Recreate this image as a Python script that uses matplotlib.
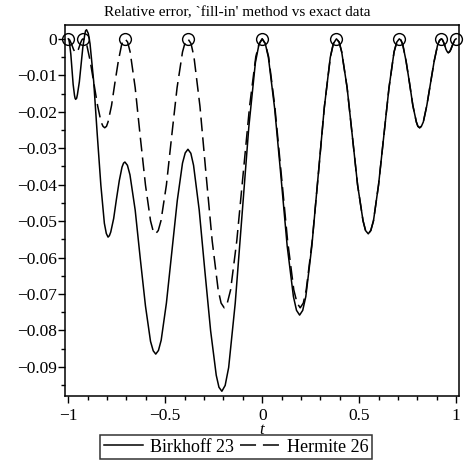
import matplotlib
matplotlib.use("Agg")
import matplotlib.pyplot as plt
from matplotlib.ticker import MultipleLocator, FuncFormatter
from matplotlib.lines import Line2D

plt.rcParams['font.family'] = ['Liberation Serif', 'DejaVu Serif']

# Birkhoff 23 (solid)
t_birk = [-1.0,
          -0.997, -0.994, -0.987, -0.981, -0.975, -0.968, -0.965, -0.962,
          -0.957, -0.953, -0.943, -0.934, -0.925, -0.915, -0.911, -0.906,
          -0.897, -0.888, -0.869, -0.851, -0.832, -0.814, -0.804, -0.795,
          -0.788, -0.781, -0.766, -0.752, -0.737, -0.723, -0.715, -0.708,
          -0.695, -0.682, -0.655, -0.629, -0.602, -0.576, -0.562, -0.549,
          -0.535, -0.521, -0.494, -0.466, -0.438, -0.411, -0.397, -0.383,
          -0.368, -0.354, -0.325, -0.296, -0.266, -0.237, -0.223, -0.208,
          -0.191, -0.173, -0.139, -0.104, -0.069, -0.035, -0.017, 0.0,
          0.016, 0.032, 0.064, 0.097, 0.129, 0.161, 0.177, 0.193,
          0.209, 0.225, 0.256, 0.288, 0.320, 0.351, 0.367, 0.383,
          0.397, 0.410, 0.438, 0.465, 0.492, 0.520, 0.533, 0.547,
          0.560, 0.574, 0.600, 0.627, 0.654, 0.680, 0.694, 0.707,
          0.716, 0.725, 0.742, 0.760, 0.777, 0.795, 0.803, 0.812,
          0.821, 0.831, 0.849, 0.868, 0.887, 0.905, 0.915, 0.924,
          0.927, 0.930, 0.936, 0.942, 0.948, 0.954, 0.957, 0.960,
          0.963, 0.967, 0.973, 0.980, 0.987, 0.993, 0.997, 1.0]
err_birk = [0.0,
            -0.0003, -0.0011, -0.0042, -0.0083, -0.0125, -0.0155, -0.0163, -0.0166,
            -0.0163, -0.0153, -0.0118, -0.0071, -0.0023, 0.0012, 0.0022, 0.0025,
            0.0015, -0.0013, -0.0117, -0.0260, -0.0402, -0.0506, -0.0534, -0.0544,
            -0.0540, -0.0530, -0.0493, -0.0441, -0.0389, -0.0352, -0.0341, -0.0338,
            -0.0347, -0.0373, -0.0470, -0.0602, -0.0733, -0.0830, -0.0856, -0.0865,
            -0.0855, -0.0827, -0.0725, -0.0584, -0.0444, -0.0341, -0.0313, -0.0303,
            -0.0314, -0.0347, -0.0469, -0.0635, -0.0801, -0.0923, -0.0956, -0.0967,
            -0.0951, -0.0902, -0.0725, -0.0484, -0.0242, -0.0065, -0.0016, 0.0,
            -0.0013, -0.0051, -0.0190, -0.0379, -0.0569, -0.0707, -0.0745, -0.0758,
            -0.0745, -0.0707, -0.0569, -0.0379, -0.0190, -0.0051, -0.0013, 0.0,
            -0.0009, -0.0036, -0.0134, -0.0268, -0.0401, -0.0499, -0.0526, -0.0535,
            -0.0526, -0.0499, -0.0401, -0.0268, -0.0134, -0.0036, -0.0009, 0.0,
            -0.0004, -0.0016, -0.0061, -0.0122, -0.0183, -0.0228, -0.0240, -0.0244,
            -0.0240, -0.0228, -0.0183, -0.0122, -0.0061, -0.0016, -0.0004, 0.0,
            -0.0001, -0.0003, -0.0010, -0.0019, -0.0029, -0.0035, -0.0037, -0.0038,
            -0.0037, -0.0035, -0.0029, -0.0019, -0.0010, -0.0003, -0.0001, 0.0]

# Hermite 26 (dashed)
t_herm = [-1.0,
          -0.997, -0.993, -0.987, -0.980, -0.973, -0.967, -0.963, -0.960,
          -0.957, -0.954, -0.948, -0.942, -0.936, -0.930, -0.927, -0.924,
          -0.915, -0.905, -0.887, -0.868, -0.849, -0.831, -0.821, -0.812,
          -0.803, -0.795, -0.777, -0.760, -0.742, -0.725, -0.716, -0.707,
          -0.694, -0.681, -0.655, -0.629, -0.602, -0.576, -0.563, -0.550,
          -0.536, -0.522, -0.494, -0.467, -0.439, -0.411, -0.397, -0.383,
          -0.367, -0.352, -0.321, -0.290, -0.258, -0.227, -0.212, -0.196,
          -0.180, -0.163, -0.131, -0.098, -0.065, -0.033, -0.016, 0.0,
          0.016, 0.033, 0.065, 0.098, 0.131, 0.163, 0.180, 0.196,
          0.212, 0.227, 0.258, 0.290, 0.321, 0.352, 0.367, 0.383,
          0.397, 0.410, 0.438, 0.465, 0.492, 0.520, 0.533, 0.547,
          0.560, 0.574, 0.600, 0.627, 0.654, 0.680, 0.694, 0.707,
          0.716, 0.725, 0.742, 0.760, 0.777, 0.795, 0.803, 0.812,
          0.821, 0.831, 0.849, 0.868, 0.887, 0.905, 0.915, 0.924,
          0.927, 0.930, 0.936, 0.942, 0.948, 0.954, 0.957, 0.960,
          0.963, 0.967, 0.973, 0.980, 0.987, 0.993, 0.997, 1.0]
err_herm = [0.0,
            -0.0001, -0.0003, -0.0010, -0.0019, -0.0029, -0.0035, -0.0037, -0.0038,
            -0.0037, -0.0035, -0.0029, -0.0019, -0.0010, -0.0003, -0.0001, 0.0,
            -0.0004, -0.0016, -0.0061, -0.0122, -0.0183, -0.0228, -0.0240, -0.0244,
            -0.0240, -0.0228, -0.0183, -0.0122, -0.0061, -0.0016, -0.0004, 0.0,
            -0.0009, -0.0036, -0.0134, -0.0268, -0.0401, -0.0499, -0.0526, -0.0535,
            -0.0526, -0.0499, -0.0401, -0.0268, -0.0134, -0.0036, -0.0009, 0.0,
            -0.0013, -0.0049, -0.0185, -0.0369, -0.0554, -0.0689, -0.0725, -0.0738,
            -0.0725, -0.0689, -0.0554, -0.0369, -0.0185, -0.0049, -0.0013, 0.0,
            -0.0013, -0.0049, -0.0185, -0.0369, -0.0554, -0.0689, -0.0725, -0.0738,
            -0.0725, -0.0689, -0.0554, -0.0369, -0.0185, -0.0049, -0.0013, 0.0,
            -0.0009, -0.0036, -0.0134, -0.0268, -0.0401, -0.0499, -0.0526, -0.0535,
            -0.0526, -0.0499, -0.0401, -0.0268, -0.0134, -0.0036, -0.0009, 0.0,
            -0.0004, -0.0016, -0.0061, -0.0122, -0.0183, -0.0228, -0.0240, -0.0244,
            -0.0240, -0.0228, -0.0183, -0.0122, -0.0061, -0.0016, -0.0004, 0.0,
            -0.0001, -0.0003, -0.0010, -0.0019, -0.0029, -0.0035, -0.0037, -0.0038,
            -0.0037, -0.0035, -0.0029, -0.0019, -0.0010, -0.0003, -0.0001, 0.0]

# interpolation nodes (circles)
t_nodes = [-1.0, -0.924, -0.707, -0.383, 0.0, 0.383, 0.707, 0.924, 1.0]
err_nodes = [0.0] * len(t_nodes)

title = "Relative error, `fill-in' method vs exact data"
labels = ["Birkhoff 23", "Hermite 26"]


def minus_fmt(v, pos):
    s = '%g' % round(v, 6)
    return s.replace('-', '\u2212')


fig = plt.figure(figsize=(4.74, 4.74), dpi=100)
ax = fig.add_axes([65 / 474, 1 - 396 / 474, (459 - 65) / 474, (396 - 25) / 474])

ax.plot(t_birk, err_birk, color='black', lw=1.1, solid_joinstyle='round')
ax.plot(t_herm, err_herm, color='black', lw=1.1, dashes=(9, 4))
ax.plot(t_nodes, err_nodes, ls='none', marker='o', ms=8.5, mfc='none',
        mec='black', mew=1.0, clip_on=False, zorder=5)

ax.set_xlim(-1.017, 1.015)
ax.set_ylim(-0.0980, 0.0038)

ax.xaxis.set_major_locator(MultipleLocator(0.5))
ax.xaxis.set_minor_locator(MultipleLocator(0.1))
ax.yaxis.set_major_locator(MultipleLocator(0.01))
ax.yaxis.set_minor_locator(MultipleLocator(0.005))
ax.xaxis.set_major_formatter(FuncFormatter(minus_fmt))
ax.yaxis.set_major_formatter(FuncFormatter(minus_fmt))
ax.tick_params(which='major', length=5, width=1, labelsize=12.5, direction='out')
ax.tick_params(axis='y', which='major', pad=1)
ax.tick_params(which='minor', length=3, width=1, direction='out')
for sp in ax.spines.values():
    sp.set_linewidth(1.1)

ax.set_xlabel('t', fontsize=12, style='italic', labelpad=-1)

fig.text(0.5, 1 - 13 / 474, title, ha='center', va='center', fontsize=11)

handles = [Line2D([], [], color='black', lw=1.1),
           Line2D([], [], color='black', lw=1.1, dashes=(10.5, 4.5))]
leg = fig.legend(handles, labels, loc='center', ncol=2,
                 bbox_to_anchor=(236 / 474, 1 - 447 / 474),
                 frameon=True, fancybox=False, edgecolor='black',
                 handlelength=2.2, handletextpad=0.4, columnspacing=0.3,
                 borderpad=0.2, borderaxespad=0, fontsize=13)
leg.get_frame().set_linewidth(1.1)

fig.savefig('out.png', dpi=100)
